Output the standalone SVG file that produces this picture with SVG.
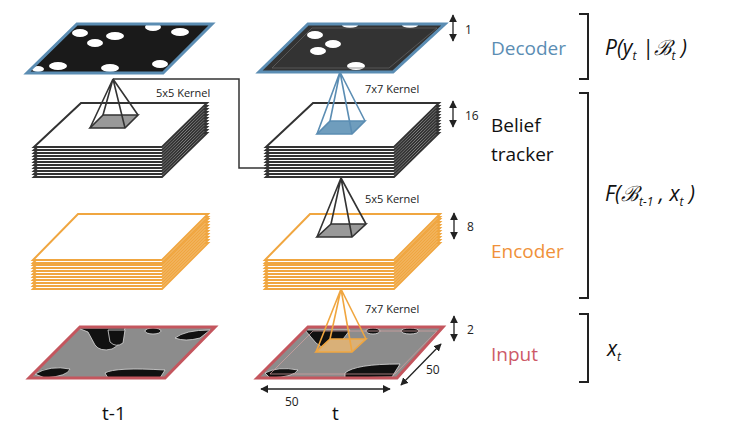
<svg xmlns="http://www.w3.org/2000/svg" width="752" height="438" viewBox="0 0 752 438">
<style>
.k{font-family:"Open Sans","DejaVu Sans",sans-serif;font-size:11px;fill:#222}
.n{font-family:"Open Sans","DejaVu Sans",sans-serif;font-size:12px;fill:#222}
.lab{font-family:"Open Sans","DejaVu Sans",sans-serif;font-size:19px}
.m{font-family:"Open Sans","DejaVu Sans",sans-serif;font-style:italic;font-size:21px;fill:#111}
.bs{fill:#fff;stroke:#333;stroke-width:2}
.os{fill:#fff;stroke:#f0a640;stroke-width:2}
.ln{fill:none;stroke:#222;stroke-width:1.3}
</style>
<defs>
<path id="bel" d="M47,0 L173,0 L128,44 L0,44 Z"/>
<path id="enc" d="M45,0 L175,0 L129,46 L0,46 Z"/>
<marker id="ah" viewBox="0 0 10 10" refX="9" refY="5" markerWidth="6" markerHeight="6" orient="auto-start-reverse"><path d="M0,0 L10,5 L0,10 Z" fill="#222"/></marker>
<clipPath id="cdl"><path d="M77,24 L212,24 L163,73 L27,73 Z"/></clipPath>
<clipPath id="cdr"><path d="M308,24 L445,24 L393,72 L259,72 Z"/></clipPath>
<clipPath id="cil"><path d="M80,327 L215,327 L165,378 L29,378 Z"/></clipPath>
<clipPath id="cir"><path d="M308,327 L443,327 L397,378 L257,378 Z"/></clipPath>
</defs>

<g id="decoder-left">
<path d="M77,24 L212,24 L163,73 L27,73 Z" fill="#1a1a1a"/>
<g clip-path="url(#cdl)" fill="#fff">
<ellipse cx="80" cy="33" rx="8" ry="4"/><ellipse cx="115" cy="36" rx="9" ry="4"/><ellipse cx="95" cy="43" rx="8" ry="4"/>
<ellipse cx="153" cy="27" rx="8" ry="4"/><ellipse cx="180" cy="32" rx="9" ry="4"/><ellipse cx="58" cy="66" rx="9" ry="4"/>
<ellipse cx="110" cy="68" rx="9" ry="4"/><ellipse cx="160" cy="64" rx="8" ry="4"/><ellipse cx="38" cy="69" rx="6" ry="3"/></g>
<path d="M77,24 L212,24 L163,73 L27,73 Z" fill="none" stroke="#5b8db3" stroke-width="3"/>
</g>
<g id="decoder-right">
<path d="M308,24 L445,24 L393,72 L259,72 Z" fill="#333"/>
<g clip-path="url(#cdr)" fill="#fff">
<ellipse cx="315" cy="35" rx="8" ry="4"/><ellipse cx="333" cy="44" rx="8" ry="4"/><ellipse cx="318" cy="51" rx="8" ry="4"/>
<ellipse cx="350" cy="25" rx="8" ry="3"/><ellipse cx="410" cy="25" rx="8" ry="3"/><ellipse cx="356" cy="66" rx="9" ry="4"/></g>
<path d="M312,28 L437,28 L389,68 L272,68 Z" fill="none" stroke="#666" stroke-width="0.7"/>
<path d="M308,24 L445,24 L393,72 L259,72 Z" fill="none" stroke="#5b8db3" stroke-width="3"/>
</g>

<g id="belief-left">
<use href="#bel" class="bs" x="34" y="133"/><use href="#bel" class="bs" x="34" y="130"/><use href="#bel" class="bs" x="34" y="127"/>
<use href="#bel" class="bs" x="34" y="124"/><use href="#bel" class="bs" x="34" y="121"/><use href="#bel" class="bs" x="34" y="118"/>
<use href="#bel" class="bs" x="34" y="115"/><use href="#bel" class="bs" x="34" y="112"/><use href="#bel" class="bs" x="34" y="109"/>
<use href="#bel" class="bs" x="34" y="106"/><use href="#bel" class="bs" x="34" y="103"/>
</g>
<g id="belief-right">
<use href="#bel" class="bs" x="266" y="133"/><use href="#bel" class="bs" x="266" y="130"/><use href="#bel" class="bs" x="266" y="127"/>
<use href="#bel" class="bs" x="266" y="124"/><use href="#bel" class="bs" x="266" y="121"/><use href="#bel" class="bs" x="266" y="118"/>
<use href="#bel" class="bs" x="266" y="115"/><use href="#bel" class="bs" x="266" y="112"/><use href="#bel" class="bs" x="266" y="109"/>
<use href="#bel" class="bs" x="266" y="106"/><use href="#bel" class="bs" x="266" y="103"/>
</g>

<g id="encoder-left">
<use href="#enc" class="os" x="33" y="243"/><use href="#enc" class="os" x="33" y="240"/><use href="#enc" class="os" x="33" y="237"/>
<use href="#enc" class="os" x="33" y="234"/><use href="#enc" class="os" x="33" y="231"/><use href="#enc" class="os" x="33" y="228"/>
<use href="#enc" class="os" x="33" y="225"/><use href="#enc" class="os" x="33" y="222"/><use href="#enc" class="os" x="33" y="219"/>
<use href="#enc" class="os" x="33" y="217"/><use href="#enc" class="os" x="33" y="214"/>
</g>
<g id="encoder-right">
<use href="#enc" class="os" x="265" y="243"/><use href="#enc" class="os" x="265" y="240"/><use href="#enc" class="os" x="265" y="237"/>
<use href="#enc" class="os" x="265" y="234"/><use href="#enc" class="os" x="265" y="231"/><use href="#enc" class="os" x="265" y="228"/>
<use href="#enc" class="os" x="265" y="225"/><use href="#enc" class="os" x="265" y="222"/><use href="#enc" class="os" x="265" y="219"/>
<use href="#enc" class="os" x="265" y="217"/><use href="#enc" class="os" x="265" y="214"/>
</g>

<g id="input-left">
<path d="M80,327 L215,327 L165,378 L29,378 Z" fill="#8c8c8c"/>
<g clip-path="url(#cil)" fill="#111" stroke="#ddd" stroke-width="0.8">
<path d="M78,328 L125,328 Q122,345 112,349 Q100,352 95,345 L88,332 Z"/>
<path d="M108,330 L125,330 L123,343 Q116,348 110,342 Z"/>
<ellipse cx="153" cy="331" rx="8" ry="3"/><path d="M175,338 Q185,330 210,330 L200,338 Q185,342 175,338 Z"/>
<path d="M35,374 Q50,365 70,369 Q68,376 45,378 Z"/><path d="M105,373 Q115,367 165,370 L160,378 L108,378 Z"/>
</g>
<path d="M80,327 L215,327 L165,378 L29,378 Z" fill="none" stroke="#c4565e" stroke-width="3"/>
</g>
<g id="input-right">
<path d="M308,327 L443,327 L397,378 L257,378 Z" fill="#8c8c8c"/>
<g clip-path="url(#cir)" fill="#111" stroke="#ddd" stroke-width="0.8">
<path d="M305,330 L350,330 L340,343 Q325,352 316,343 Z"/>
<ellipse cx="373" cy="331" rx="7" ry="3"/><ellipse cx="410" cy="331" rx="9" ry="3"/>
<path d="M265,373 Q278,366 298,370 Q294,377 270,378 Z"/><path d="M345,373 Q355,364 400,364 L392,377 L345,378 Z"/>
</g>
<path d="M313,331 L437,331 L395,374 L270,374 Z" fill="none" stroke="#d8a0a0" stroke-width="0.7"/>
<path d="M308,327 L443,327 L397,378 L257,378 Z" fill="none" stroke="#c4565e" stroke-width="3"/>
</g>

<g id="connectors">
<polyline points="113,79 239,79 239,168 266,168" fill="none" stroke="#333" stroke-width="1.5"/>
<g fill="none" stroke="#333" stroke-width="1.6">
<path d="M90,128 L125,128 L138,115 L103,115 Z" fill="#999"/>
<path d="M113,79 L90,128 M113,79 L125,128 M113,79 L138,115 M113,79 L103,115"/>
</g>
<g fill="none" stroke="#5b8db3" stroke-width="1.6">
<path d="M317,134 L352,134 L365,121 L330,121 Z" fill="#6f9dbd"/>
<path d="M340,72 L317,134 M340,72 L352,134 M340,72 L365,121 M340,72 L330,121"/>
</g>
<g fill="none" stroke="#333" stroke-width="1.6">
<path d="M317,237 L352,237 L366,224 L331,224 Z" fill="#999"/>
<path d="M341,178 L317,237 M341,178 L352,237 M341,178 L366,224 M341,178 L331,224"/>
</g>
<g fill="none" stroke="#f0a640" stroke-width="1.6">
<path d="M316,352 L352,352 L366,339 L330,339 Z" fill="#d9b078"/>
<path d="M341,289 L316,352 M341,289 L352,352 M341,289 L366,339 M341,289 L330,339"/>
</g>
<line x1="261" y1="389" x2="390" y2="389" class="ln" marker-start="url(#ah)" marker-end="url(#ah)"/>
<line x1="401" y1="385" x2="441" y2="344" class="ln" marker-start="url(#ah)" marker-end="url(#ah)"/>
<line x1="453" y1="15" x2="453" y2="41" class="ln" marker-start="url(#ah)" marker-end="url(#ah)"/>
<line x1="453" y1="101" x2="453" y2="127" class="ln" marker-start="url(#ah)" marker-end="url(#ah)"/>
<line x1="454" y1="213" x2="454" y2="239" class="ln" marker-start="url(#ah)" marker-end="url(#ah)"/>
<line x1="454" y1="316" x2="454" y2="341" class="ln" marker-start="url(#ah)" marker-end="url(#ah)"/>
<g fill="none" stroke="#222" stroke-width="2">
<polyline points="579,14 588,14 588,79 579,79"/>
<polyline points="579,93 588,93 588,298 579,298"/>
<polyline points="579,314 588,314 588,382 579,382"/>
</g>
</g>

<g id="labels">
<text class="k" x="156" y="97">5x5 Kernel</text>
<text class="k" x="365" y="93">7x7 Kernel</text>
<text class="k" x="365" y="203">5x5 Kernel</text>
<text class="k" x="365" y="313">7x7 Kernel</text>
<text class="n" x="285" y="406">50</text>
<text class="n" x="426" y="374">50</text>
<text class="lab" x="102" y="420" fill="#111">t-1</text>
<text class="lab" x="332" y="420" fill="#111">t</text>
<text class="n" x="465" y="34">1</text>
<text class="n" x="465" y="120">16</text>
<text class="n" x="467" y="231">8</text>
<text class="n" x="467" y="334">2</text>
<text class="lab" x="491" y="55" fill="#5b8db3">Decoder</text>
<text class="lab" x="491" y="132" fill="#111">Belief</text>
<text class="lab" x="491" y="161" fill="#111">tracker</text>
<text class="lab" x="491" y="258" fill="#f0913a">Encoder</text>
<text class="lab" x="491" y="361" fill="#cd5a68">Input</text>
<text class="m" x="605" y="55">P(y<tspan font-size="12" dy="5">t</tspan><tspan dy="-5"> |</tspan><tspan font-family="'DejaVu Serif',serif">ℬ</tspan><tspan font-size="12" dy="5">t</tspan><tspan dy="-5"> )</tspan></text>
<text class="m" x="605" y="201">F(<tspan font-family="'DejaVu Serif',serif">ℬ</tspan><tspan font-size="12" dy="5">t-1</tspan><tspan dy="-5"> , x</tspan><tspan font-size="12" dy="5">t</tspan><tspan dy="-5"> )</tspan></text>
<text class="m" x="607" y="356">x<tspan font-size="12" dy="5">t</tspan></text>
</g>
</svg>
